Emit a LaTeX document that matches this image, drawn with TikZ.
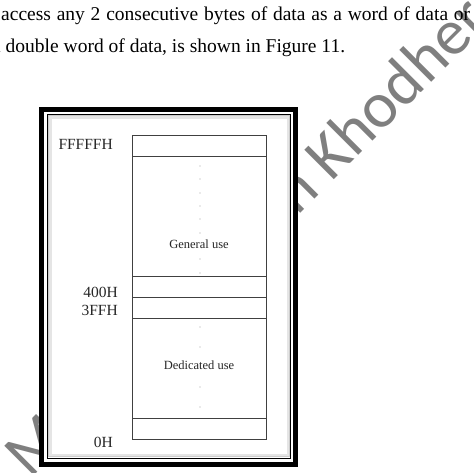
\documentclass[tikz,border=0pt]{standalone}
\usepackage{fontspec}
\setmainfont{Liberation Serif}
\newfontfamily\wmfont{Carlito}
\definecolor{wmgray}{HTML}{7F7F7F}
\begin{document}
\begin{tikzpicture}[x=1pt,y=-1pt,
  body/.style={font=\fontsize{19.5}{22}\selectfont, inner sep=0pt, anchor=base west},
  addr/.style={font=\fontsize{15.5}{18}\selectfont, text=black!85, inner sep=0pt, anchor=base east},
  usage/.style={font=\fontsize{12.5}{15}\selectfont, text=black!85, inner sep=0pt},
  wm/.style={font=\wmfont\fontsize{65}{72}\selectfont, text=wmgray, inner sep=0pt, anchor=base west, rotate=45},
  dotmark/.style={circle, fill=gray!70, inner sep=0pt, minimum size=1.3pt},
  cell/.style={draw=black!75, line width=0.9pt}
]
\useasboundingbox (0,0) rectangle (474,473);
\begin{scope}
\clip (0,0) rectangle (474,473);
% watermark
\node[wm] (wm1) at (30,480) {M};
\node[wm] (wm2) at (297,217) {h Khodher};
% page text
\node[body] (l1) at (1,20.5) {\makebox[469pt][s]{access any 2 consecutive bytes of data as a word of data or}};
\node[body] (l2) at (-8,53) {a double word of data, is shown in Figure 11.};
\end{scope}
% frame
\draw[line width=5pt, fill=white] (41.5,109.5) rectangle (295.5,464.5);
\draw[gray!20, line width=3pt] (50,117.5) rectangle (288,455);
\draw[gray!40, line width=1pt] (48.5,116) rectangle (289,456.5);
\draw[line width=0.8pt] (47,114.5) rectangle (290.5,458);
% memory map
\draw[cell] (132,135) rectangle (266,439);
\foreach \yy in {156,276,297,318,418} \draw[cell] (132,\yy) -- (266,\yy);
% addresses
\node[addr] (a1) at (113,150) {FFFFFH};
\node[addr] (a2) at (118,297) {400H};
\node[addr] (a3) at (118,315) {3FFH};
\node[addr] (a4) at (113,447) {0H};
% usage labels
\node[usage] (gen) at (199,244) {General use};
\node[usage] (ded) at (199,365) {Dedicated use};
% dots
\foreach \yy [count=\i] in {166,179,193,206,219,233,259,273,327,347,387,407}
  \node[dotmark] (d\i) at (200,\yy) {};
\end{tikzpicture}
\end{document}
